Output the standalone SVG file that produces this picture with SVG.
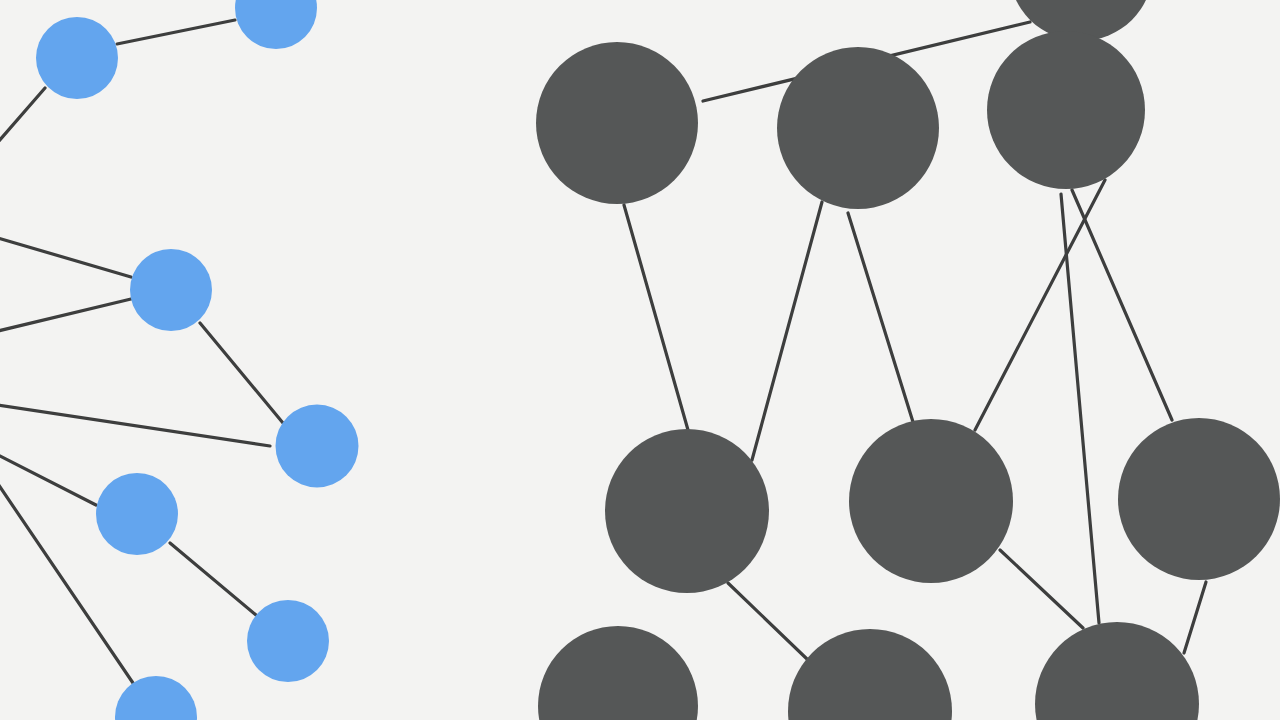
<svg xmlns="http://www.w3.org/2000/svg" width="1280" height="720" viewBox="0 0 1280 720">
<style>
.bg{fill:#f3f3f2}
.blue{fill:#63a5ee}
.dark{fill:#555757}
.edge{stroke:#3d3e3e;stroke-width:3.2;stroke-linecap:round;fill:none}
</style>
<rect class="bg" x="0" y="0" width="1280" height="720"/>
<g id="connectors">
<line class="edge" x1="117" y1="44" x2="235" y2="20"/>
<line class="edge" x1="45" y1="88" x2="-2" y2="142"/>
<line class="edge" x1="-2" y1="238" x2="131" y2="277"/>
<line class="edge" x1="-2" y1="331" x2="131" y2="299"/>
<line class="edge" x1="200" y1="323" x2="283" y2="423"/>
<line class="edge" x1="-2" y1="405" x2="270" y2="446"/>
<line class="edge" x1="-2" y1="455" x2="96" y2="505"/>
<line class="edge" x1="170" y1="543" x2="256" y2="615"/>
<line class="edge" x1="-2" y1="484" x2="133" y2="683"/>
<line class="edge" x1="703" y1="101" x2="1030" y2="22"/>
<line class="edge" x1="624" y1="205" x2="688" y2="430"/>
<line class="edge" x1="822" y1="202" x2="752" y2="460"/>
<line class="edge" x1="848" y1="213" x2="913" y2="422"/>
<line class="edge" x1="1105" y1="180" x2="975" y2="430"/>
<line class="edge" x1="1061" y1="194" x2="1099" y2="623"/>
<line class="edge" x1="1072" y1="190" x2="1172" y2="420"/>
<line class="edge" x1="728" y1="583" x2="807" y2="659"/>
<line class="edge" x1="1000" y1="550" x2="1083" y2="628"/>
<line class="edge" x1="1206" y1="582" x2="1184" y2="653"/>
</g>
<g id="b1"><circle class="blue" cx="77" cy="58" r="41"/></g>
<g id="b2"><circle class="blue" cx="276" cy="8" r="41"/></g>
<g id="b3"><circle class="blue" cx="171" cy="290" r="41"/></g>
<g id="b4"><circle class="blue" cx="317" cy="446" r="41.5"/></g>
<g id="b5"><circle class="blue" cx="137" cy="514" r="41"/></g>
<g id="b6"><circle class="blue" cx="288" cy="641" r="41"/></g>
<g id="b7"><circle class="blue" cx="156" cy="717" r="41"/></g>
<g id="d4"><circle class="dark" cx="1081" cy="-31" r="72"/></g>
<g id="d1"><circle class="dark" cx="617" cy="123" r="81"/></g>
<g id="d2"><circle class="dark" cx="858" cy="128" r="81"/></g>
<g id="d3"><circle class="dark" cx="1066" cy="110" r="79"/></g>
<g id="d5"><circle class="dark" cx="687" cy="511" r="82"/></g>
<g id="d6"><circle class="dark" cx="931" cy="501" r="82"/></g>
<g id="d7"><circle class="dark" cx="1199" cy="499" r="81"/></g>
<g id="d8"><circle class="dark" cx="618" cy="706" r="80"/></g>
<g id="d9"><circle class="dark" cx="870" cy="711" r="82"/></g>
<g id="d10"><circle class="dark" cx="1117" cy="704" r="82"/></g>
</svg>
